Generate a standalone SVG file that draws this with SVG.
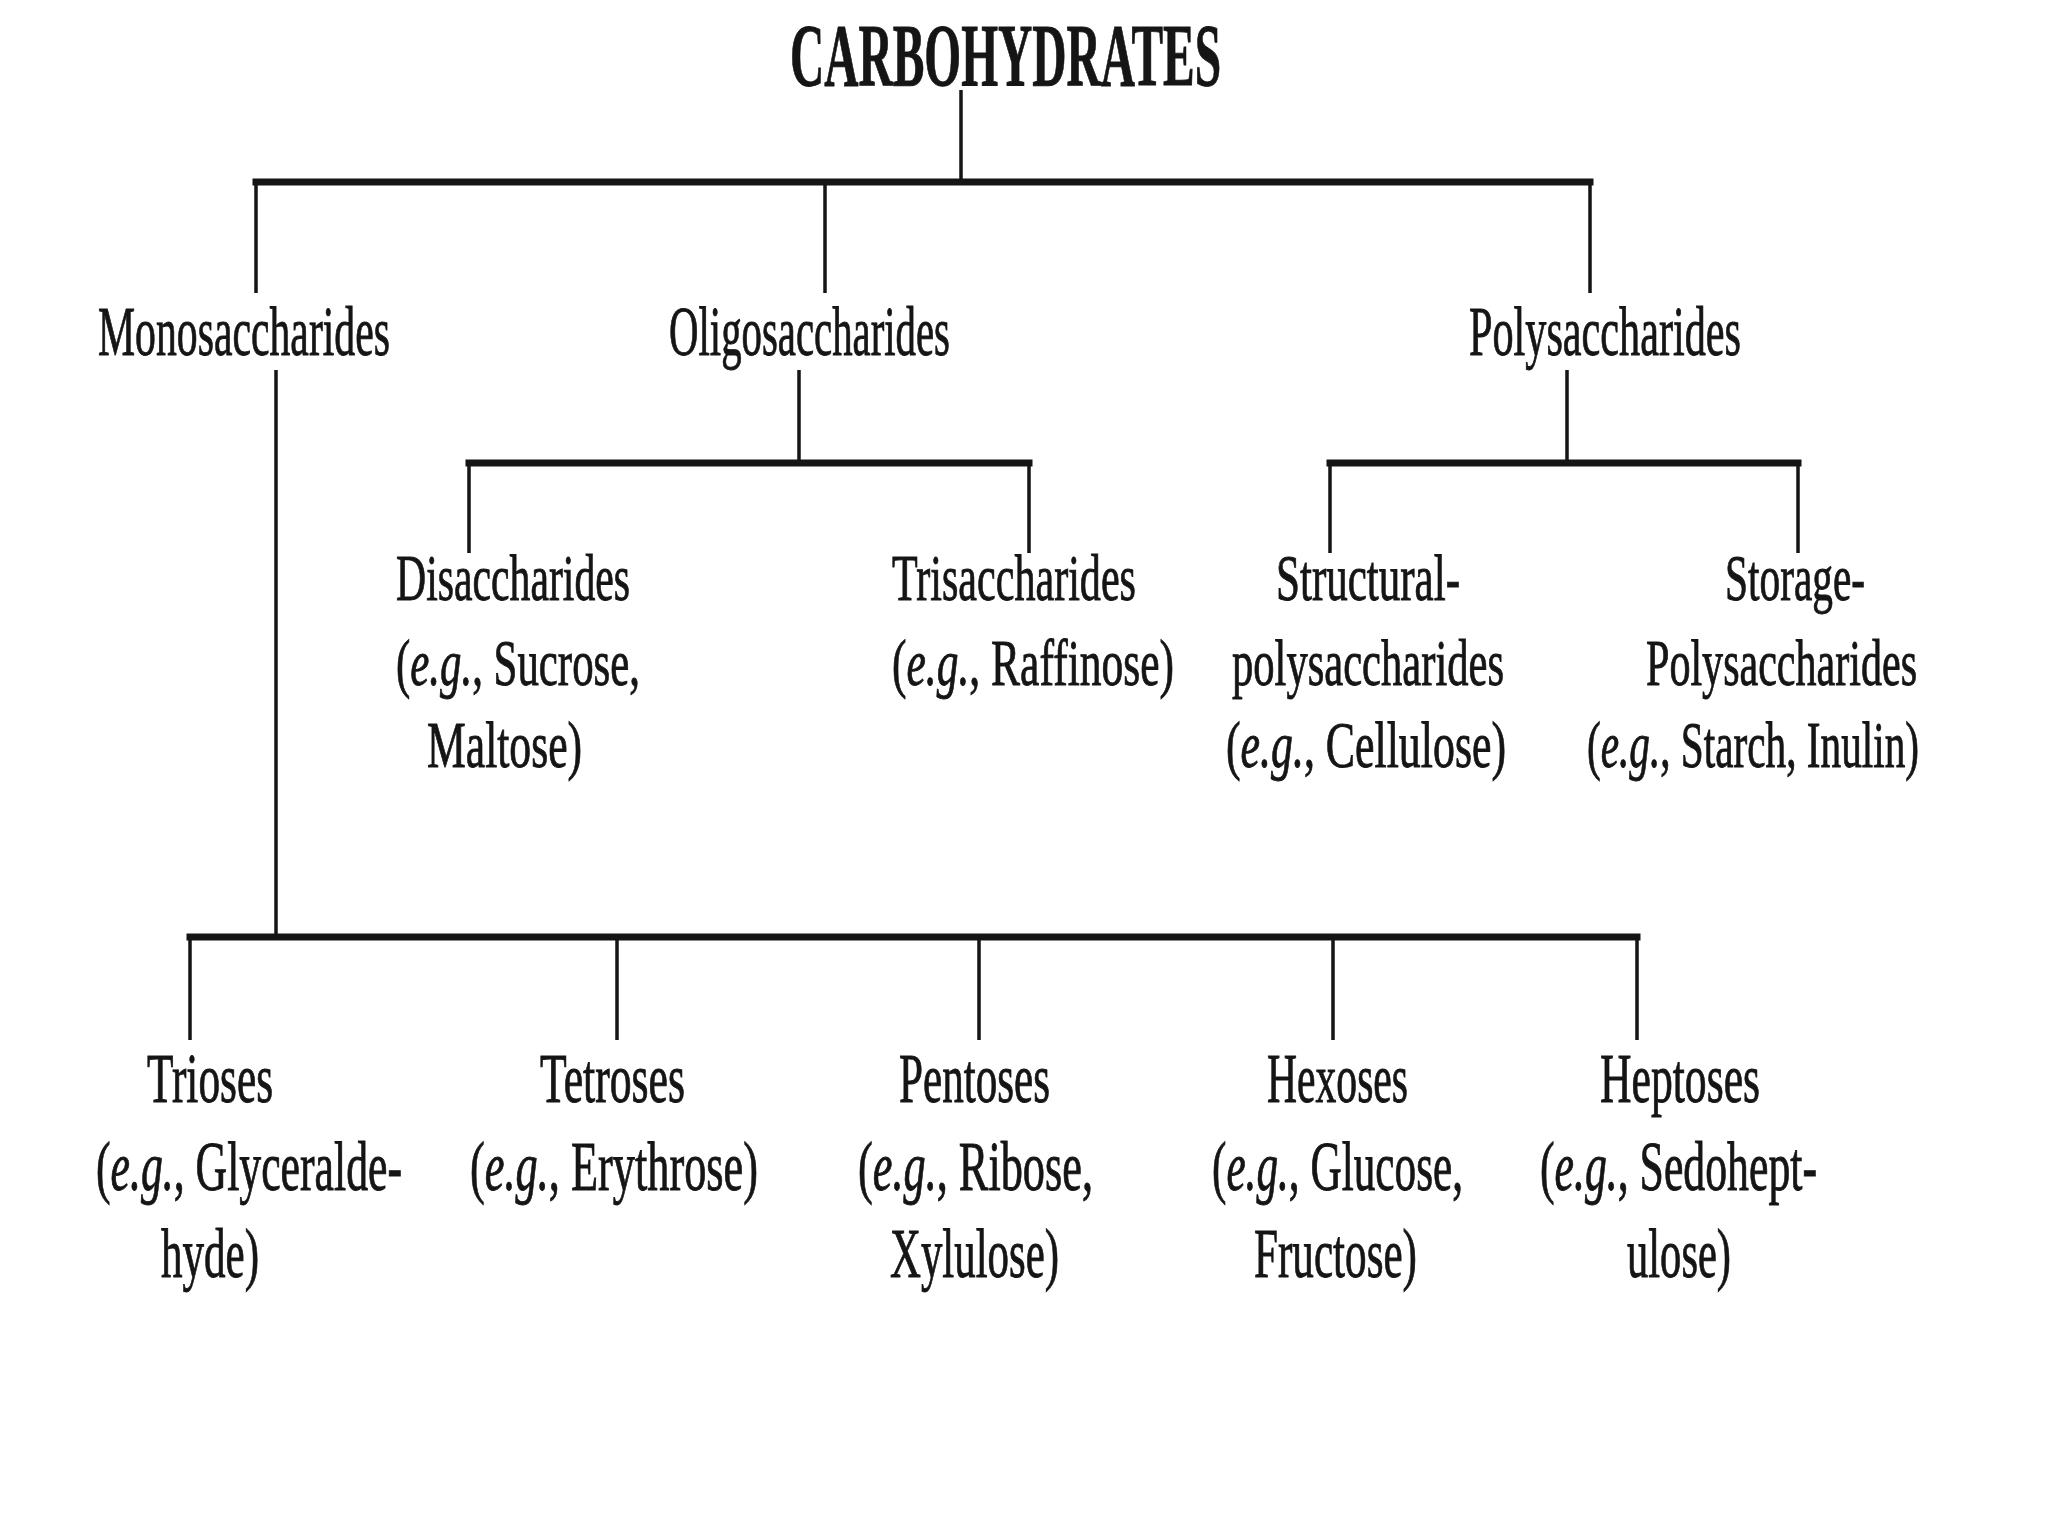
<svg xmlns="http://www.w3.org/2000/svg" width="2048" height="1536" viewBox="0 0 2048 1536">
<style>
.t{font-family:"Liberation Serif","Times New Roman",serif;fill:#151515;font-size:70px;stroke:#151515;stroke-width:0.9}
.l3{font-size:66px}
.title{font-weight:bold;font-size:88px}
.i{font-style:italic}
.ln{stroke:#151515;stroke-width:3.5;fill:none}
.bar{stroke:#151515;stroke-width:7;fill:none;stroke-linecap:square}
</style>
<rect width="2048" height="1536" fill="#ffffff"/>
<g id="connectors">
<path class="ln" d="M961 90V182"/>
<path class="bar" d="M256 182H1590"/>
<path class="ln" d="M256 182V293M825 182V293M1590 182V293"/>
<path class="ln" d="M276 370V937"/>
<path class="ln" d="M799 370V463M1567 370V463"/>
<path class="bar" d="M469 463H1029M1330 463H1798"/>
<path class="ln" d="M469 463V553M1029 463V553M1330 463V553M1798 463V553"/>
<path class="bar" d="M190 937H1637"/>
<path class="ln" d="M190 937V1040M617 937V1040M979 937V1040M1333 937V1040M1637 937V1040"/>
</g>
<g id="carbohydrates"><text class="t title" x="790" y="85" textLength="431" lengthAdjust="spacingAndGlyphs">CARBOHYDRATES</text></g>
<g id="monosaccharides"><text class="t" x="98" y="355" textLength="292" lengthAdjust="spacingAndGlyphs">Monosaccharides</text></g>
<g id="oligosaccharides"><text class="t" x="669" y="355" textLength="281" lengthAdjust="spacingAndGlyphs">Oligosaccharides</text></g>
<g id="polysaccharides"><text class="t" x="1469" y="355" textLength="272" lengthAdjust="spacingAndGlyphs">Polysaccharides</text></g>
<g id="disaccharides">
<text class="t l3" x="396" y="600" textLength="234" lengthAdjust="spacingAndGlyphs">Disaccharides</text>
<text class="t l3" x="396" y="685" textLength="244" lengthAdjust="spacingAndGlyphs">(<tspan class="i">e.g.</tspan>, Sucrose,</text>
<text class="t l3" x="427" y="767" textLength="155" lengthAdjust="spacingAndGlyphs">Maltose)</text>
</g>
<g id="trisaccharides">
<text class="t l3" x="892" y="600" textLength="244" lengthAdjust="spacingAndGlyphs">Trisaccharides</text>
<text class="t l3" x="892" y="685" textLength="282" lengthAdjust="spacingAndGlyphs">(<tspan class="i">e.g.</tspan>, Raffinose)</text>
</g>
<g id="structural">
<text class="t l3" x="1276" y="600" textLength="184" lengthAdjust="spacingAndGlyphs">Structural-</text>
<text class="t l3" x="1232" y="685" textLength="272" lengthAdjust="spacingAndGlyphs">polysaccharides</text>
<text class="t l3" x="1226" y="767" textLength="280" lengthAdjust="spacingAndGlyphs">(<tspan class="i">e.g.</tspan>, Cellulose)</text>
</g>
<g id="storage">
<text class="t l3" x="1725" y="600" textLength="140" lengthAdjust="spacingAndGlyphs">Storage-</text>
<text class="t l3" x="1646" y="685" textLength="271" lengthAdjust="spacingAndGlyphs">Polysaccharides</text>
<text class="t l3" x="1587" y="767" textLength="332" lengthAdjust="spacingAndGlyphs">(<tspan class="i">e.g.</tspan>, Starch, Inulin)</text>
</g>
<g id="trioses">
<text class="t" x="147" y="1102" textLength="126" lengthAdjust="spacingAndGlyphs">Trioses</text>
<text class="t" x="96" y="1190" textLength="306" lengthAdjust="spacingAndGlyphs">(<tspan class="i">e.g.</tspan>, Glyceralde-</text>
<text class="t" x="161" y="1277" textLength="98" lengthAdjust="spacingAndGlyphs">hyde)</text>
</g>
<g id="tetroses">
<text class="t" x="540" y="1102" textLength="145" lengthAdjust="spacingAndGlyphs">Tetroses</text>
<text class="t" x="470" y="1190" textLength="288" lengthAdjust="spacingAndGlyphs">(<tspan class="i">e.g.</tspan>, Erythrose)</text>
</g>
<g id="pentoses">
<text class="t" x="899" y="1102" textLength="151" lengthAdjust="spacingAndGlyphs">Pentoses</text>
<text class="t" x="858" y="1190" textLength="235" lengthAdjust="spacingAndGlyphs">(<tspan class="i">e.g.</tspan>, Ribose,</text>
<text class="t" x="890" y="1277" textLength="169" lengthAdjust="spacingAndGlyphs">Xylulose)</text>
</g>
<g id="hexoses">
<text class="t" x="1267" y="1102" textLength="141" lengthAdjust="spacingAndGlyphs">Hexoses</text>
<text class="t" x="1212" y="1190" textLength="251" lengthAdjust="spacingAndGlyphs">(<tspan class="i">e.g.</tspan>, Glucose,</text>
<text class="t" x="1254" y="1277" textLength="163" lengthAdjust="spacingAndGlyphs">Fructose)</text>
</g>
<g id="heptoses">
<text class="t" x="1600" y="1102" textLength="160" lengthAdjust="spacingAndGlyphs">Heptoses</text>
<text class="t" x="1540" y="1190" textLength="277" lengthAdjust="spacingAndGlyphs">(<tspan class="i">e.g.</tspan>, Sedohept-</text>
<text class="t" x="1627" y="1277" textLength="104" lengthAdjust="spacingAndGlyphs">ulose)</text>
</g>
</svg>
